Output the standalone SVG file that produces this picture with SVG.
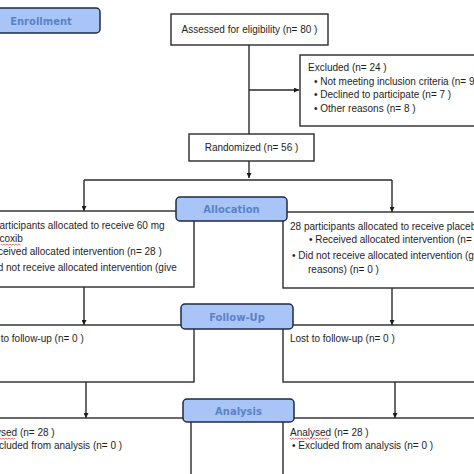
<svg xmlns="http://www.w3.org/2000/svg" width="474" height="474" viewBox="0 0 474 474">
<style>
.box{fill:#fff;stroke:#2a2a2a;stroke-width:1.4}
.lab{fill:#a9c5f7;stroke:#1e2a44;stroke-width:1.5}
.lt{font-family:"DejaVu Sans",Verdana,sans-serif;font-weight:bold;font-size:10px;fill:#5a82c6;text-anchor:middle}
.t{font-family:"Liberation Sans",Arial,sans-serif;font-size:10px;fill:#1e1e1e}
.c{stroke:#2a2a2a;stroke-width:1.4;fill:none}
.sq{stroke:#e03a3a;stroke-width:0.7;fill:none}
</style>
<defs>
<marker id="ah" viewBox="0 0 8 8" refX="8" refY="4" markerWidth="5" markerHeight="5" orient="auto" markerUnits="userSpaceOnUse">
<path d="M0,0 L8,4 L0,8 z" fill="#1a1a1a"/>
</marker>
</defs>
<g id="connectors">
<path class="c" d="M249,45 V134"/>
<path class="c" d="M249,90 H299" marker-end="url(#ah)"/>
<path class="c" d="M249,161 V178" marker-end="url(#ah)"/>
<path class="c" d="M84,180 H392"/>
<path class="c" d="M84,180 V211" marker-end="url(#ah)"/>
<path class="c" d="M392,180 V212" marker-end="url(#ah)"/>
<path class="c" d="M84,287 V325" marker-end="url(#ah)"/>
<path class="c" d="M392,288 V325" marker-end="url(#ah)"/>
<path class="c" d="M86,382 V418" marker-end="url(#ah)"/>
<path class="c" d="M395,382 V418" marker-end="url(#ah)"/>
</g>
<g id="assessed">
<rect class="box" x="171" y="14" width="157" height="31"/>
<text class="t" x="249.5" y="33" text-anchor="middle">Assessed for eligibility (n= 80 )</text>
</g>
<g id="excluded">
<rect class="box" x="300" y="55" width="190" height="71"/>
<text class="t" x="308" y="71">Excluded  (n= 24  )</text>
<text class="t" x="314" y="85">•  Not meeting inclusion criteria (n= 9 )</text>
<text class="t" x="314" y="98">•  Declined to participate (n= 7 )</text>
<text class="t" x="314" y="112">•  Other reasons (n= 8 )</text>
</g>
<g id="randomized">
<rect class="box" x="189" y="134" width="125" height="27"/>
<text class="t" x="251.5" y="151" text-anchor="middle">Randomized (n= 56 )</text>
</g>
<g id="alloc-left">
<rect class="box" x="-26" y="211" width="220" height="76"/>
<text class="t" x="-20" y="229">28 participants allocated to receive 60 mg</text>
<text class="t" x="-20" y="242">etoricoxib</text>
<path class="sq" d="M1,244 l1.5,1.2 l1.5,-1.2 l1.5,1.2 l1.5,-1.2 l1.5,1.2 l1.5,-1.2 l1.5,1.2 l1.5,-1.2 l1.5,1.2 l1.5,-1.2 l1.5,1.2 l1.5,-1.2 l1.5,1.2"/>
<text class="t" x="-21" y="255">•  Received allocated intervention (n= 28 )</text>
<text class="t" x="-18" y="271">•  Did not receive allocated intervention (give</text>
</g>
<g id="alloc-right">
<rect class="box" x="283" y="212" width="210" height="76"/>
<text class="t" x="290" y="230">28 participants allocated to receive placebo</text>
<text class="t" x="309" y="243">•  Received allocated intervention (n= 28 )</text>
<text class="t" x="292" y="259">•  Did not receive allocated intervention (give</text>
<text class="t" x="308" y="273">reasons) (n= 0 )</text>
</g>
<g id="follow-left">
<rect class="box" x="-26" y="325" width="220" height="57"/>
<text class="t" x="-21" y="342">Lost to follow-up (n= 0 )</text>
</g>
<g id="follow-right">
<rect class="box" x="283" y="325" width="210" height="57"/>
<text class="t" x="290" y="342">Lost to follow-up (n= 0 )</text>
</g>
<g id="analysis-left">
<rect class="box" x="-26" y="418" width="217" height="70"/>
<text class="t" x="-24" y="436">Analysed  (n= 28 )</text>
<path class="sq" d="M-24,438 l1.5,1.2 l1.5,-1.2 l1.5,1.2 l1.5,-1.2 l1.5,1.2 l1.5,-1.2 l1.5,1.2 l1.5,-1.2 l1.5,1.2 l1.5,-1.2 l1.5,1.2 l1.5,-1.2 l1.5,1.2 l1.5,-1.2 l1.5,1.2 l1.5,-1.2 l1.5,1.2 l1.5,-1.2 l1.5,1.2 l1.5,-1.2 l1.5,1.2 l1.5,-1.2 l1.5,1.2 l1.5,-1.2 l1.5,1.2 l1.5,-1.2"/>
<text class="t" x="-19" y="449">•  Excluded from analysis (n= 0 )</text>
</g>
<g id="analysis-right">
<rect class="box" x="283" y="418" width="210" height="70"/>
<text class="t" x="290" y="436">Analysed  (n= 28 )</text>
<path class="sq" d="M290,438 l1.5,1.2 l1.5,-1.2 l1.5,1.2 l1.5,-1.2 l1.5,1.2 l1.5,-1.2 l1.5,1.2 l1.5,-1.2 l1.5,1.2 l1.5,-1.2 l1.5,1.2 l1.5,-1.2 l1.5,1.2 l1.5,-1.2 l1.5,1.2 l1.5,-1.2 l1.5,1.2 l1.5,-1.2 l1.5,1.2 l1.5,-1.2 l1.5,1.2 l1.5,-1.2 l1.5,1.2 l1.5,-1.2 l1.5,1.2 l1.5,-1.2"/>
<text class="t" x="292" y="449">•  Excluded from analysis (n= 0 )</text>
</g>
<g id="label-enrollment">
<rect class="lab" x="-10" y="8" width="110" height="25" rx="4"/>
<text class="lt" x="41" y="24.5">Enrollment</text>
</g>
<g id="label-allocation">
<rect class="lab" x="176" y="197" width="111" height="24" rx="4"/>
<text class="lt" x="231.5" y="213">Allocation</text>
</g>
<g id="label-followup">
<rect class="lab" x="181" y="304" width="112" height="25" rx="4"/>
<text class="lt" x="237" y="320.5">Follow-Up</text>
</g>
<g id="label-analysis">
<rect class="lab" x="183" y="399" width="111" height="23" rx="4"/>
<text class="lt" x="238.5" y="414.5">Analysis</text>
</g>
</svg>
